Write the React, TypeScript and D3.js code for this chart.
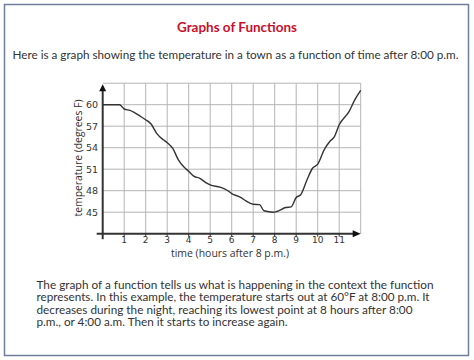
import React from "react";
import * as d3 from "d3";

const hours = [0, 0.78, 1, 1.27, 1.74, 2, 2.25, 2.51, 2.82, 3, 3.26, 3.52, 3.78, 4, 4.25, 4.5, 4.84, 5, 5.46, 5.77, 6, 6.39, 6.7, 7, 7.3, 7.5, 7.94, 8.1, 8.5, 8.76, 9, 9.2, 9.5, 9.75, 10, 10.3, 10.57, 10.77, 11, 11.47, 11.73, 12];
const temps = [60, 60, 59.4, 59.2, 58.4, 57.9, 57.3, 56.0, 55.1, 54.7, 53.9, 52.3, 51.3, 50.7, 50.0, 49.75, 49.05, 48.8, 48.5, 48.1, 47.6, 47.1, 46.5, 46.1, 46.05, 45.2, 45.0, 45.1, 45.65, 45.75, 47.05, 47.4, 49.5, 51.1, 51.7, 53.7, 54.9, 55.5, 57.2, 59.1, 60.7, 62.0];
const xTicks = [1, 2, 3, 4, 5, 6, 7, 8, 9, 10, 11];
const yTicks = [45, 48, 51, 54, 57, 60];
const xGrid = [1, 2, 3, 4, 5, 6, 7, 8, 9, 10, 11, 12];
const yGrid = [45, 48, 51, 54, 57, 60, 63];

const title = "Graphs of Functions";
const subtitle = "Here is a graph showing the temperature in a town as a function of time after 8:00 p.m.";
const xTitle = "time (hours after 8 p.m.)";
const yTitle = "temperature (degrees F)";
const paragraph = [
  "The graph of a function tells us what is happening in the context the function",
  "represents. In this example, the temperature starts out at 60\u00B0F at 8:00 p.m. It",
  "decreases during the night, reaching its lowest point at 8 hours after 8:00",
  "p.m., or 4:00 a.m. Then it starts to increase again.",
];
const paragraphWidths = [397, 393, 376, 251];

export default function App() {
  const x = d3.scaleLinear().domain([0, 12]).range([102.7, 360.7]);
  const y = d3.scaleLinear().domain([42, 63]).range([233.7, 83.2]);
  const line = d3
    .line<number>()
    .x((_, i) => x(hours[i]))
    .y((d) => y(d))
    .curve(d3.curveMonotoneX);
  const font = "Lato, 'Open Sans', sans-serif";
  const axisColor = "#333";
  return (
    <svg
      width={474}
      height={360}
      style={{ position: "absolute", left: 0, top: 0, background: "#fff" }}
    >
      <rect x={0} y={0} width={474} height={360} fill="#fff" />
      <rect x={4.5} y={4.5} width={464} height={351} fill="#fff" stroke="#6f7e9c" strokeWidth={1.5} />
      <text x={237} y={32} textAnchor="middle" fill="#c8102e" fontFamily={font} fontWeight="bold" fontSize={14} textLength={120} lengthAdjust="spacingAndGlyphs">
        {title}
      </text>
      <text x={12.5} y={59} fill="#333" fontFamily={font} fontSize={11.6} textLength={446} lengthAdjust="spacingAndGlyphs">
        {subtitle}
      </text>
      {xGrid.map((v) => (
        <line key={"gx" + v} x1={x(v)} x2={x(v)} y1={y(42)} y2={y(63)} stroke="#b4b4b4" strokeWidth={1} />
      ))}
      {yGrid.map((v) => (
        <line key={"gy" + v} x1={x(0)} x2={x(12)} y1={y(v)} y2={y(v)} stroke="#b4b4b4" strokeWidth={1} />
      ))}
      <line x1={x(0)} x2={x(0)} y1={y(42) + 5.5} y2={y(63) + 6} stroke={axisColor} strokeWidth={2} />
      <path d={`M${x(0)},${y(63) + 1} L${x(0) - 3.5},${y(63) + 8} L${x(0) + 3.5},${y(63) + 8} Z`} fill="#111" />
      <line x1={x(0) - 6} x2={x(12) - 6} y1={y(42)} y2={y(42)} stroke={axisColor} strokeWidth={2} />
      <path d={`M${x(12)},${y(42)} L${x(12) - 8},${y(42) - 3.5} L${x(12) - 8},${y(42) + 3.5} Z`} fill="#111" />
      {xTicks.map((v) => (
        <g key={"xt" + v}>
          <line x1={x(v)} x2={x(v)} y1={y(42)} y2={y(42) + 3} stroke={axisColor} strokeWidth={1} />
          <text x={x(v)} y={y(42) + 9.5} textAnchor="middle" fontFamily="'DejaVu Sans', sans-serif" fontSize={9} fill="#333">
            {v}
          </text>
        </g>
      ))}
      {yTicks.map((v) => (
        <text key={"yt" + v} x={98} y={y(v) + 3.5} textAnchor="end" fontFamily="'DejaVu Sans', sans-serif" fontSize={9.5} fill="#333">
          {v}
        </text>
      ))}
      <text x={230} y={257} textAnchor="middle" fontFamily="'Open Sans', sans-serif" fontSize={11} fill="#333" textLength={118} lengthAdjust="spacingAndGlyphs">
        {xTitle}
      </text>
      <text transform="translate(82,158) rotate(-90)" textAnchor="middle" fontFamily="'Open Sans', sans-serif" fontSize={11} fill="#333" textLength={117} lengthAdjust="spacingAndGlyphs">
        {yTitle}
      </text>
      <path d={line(temps) || ""} fill="none" stroke="#333" strokeWidth={1.4} />
      {paragraph.map((t, i) => (
        <text key={"p" + i} x={36.5} y={289.3 + i * 12.1} fill="#333" fontFamily={font} fontSize={11.6} textLength={paragraphWidths[i]} lengthAdjust="spacingAndGlyphs">
          {t}
        </text>
      ))}
    </svg>
  );
}
